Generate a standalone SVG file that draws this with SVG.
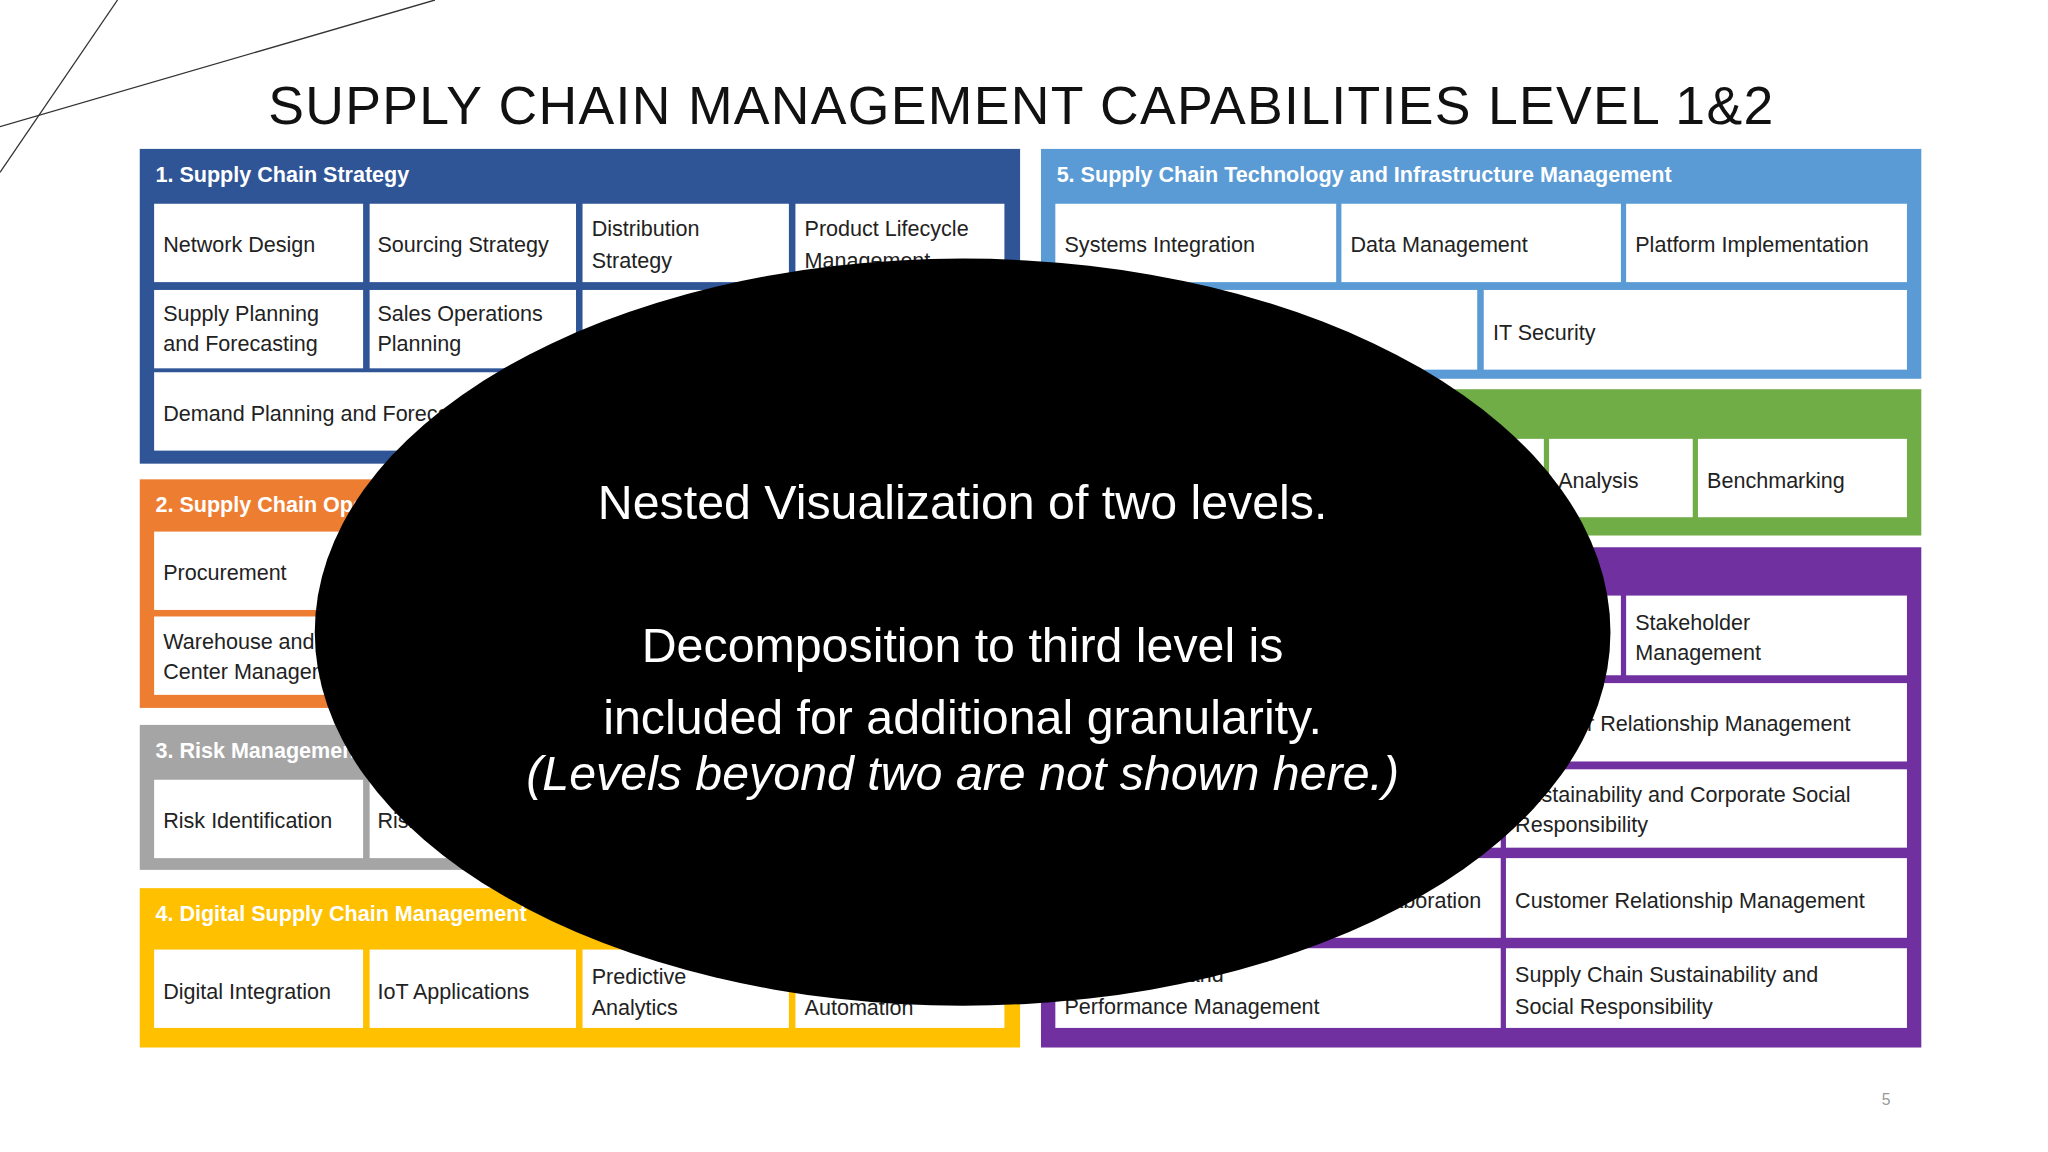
<svg xmlns="http://www.w3.org/2000/svg" width="2048" height="1152" viewBox="0 0 2048 1152">
<style>
.h{font-family:"Liberation Sans",Arial,sans-serif;font-weight:bold;font-size:16.5px;fill:#fff}
.c{fill:#fff}
.t{font-family:"Liberation Sans",Arial,sans-serif;font-size:16.5px;fill:#222}
.e{font-family:"Liberation Sans",Arial,sans-serif;font-size:37px;fill:#fff;text-anchor:middle}
</style>
<rect width="2048" height="1152" fill="#fff"/>
<g transform="scale(1.30612)">
<g id="decor" stroke="#333" stroke-width="1">
<line x1="90" y1="0" x2="0" y2="132"/><line x1="333" y1="0" x2="0" y2="97"/>
</g>
<text x="782" y="95" text-anchor="middle" font-family="Liberation Sans,Arial,sans-serif" font-size="41" fill="#111" letter-spacing="1">SUPPLY CHAIN MANAGEMENT CAPABILITIES LEVEL 1&amp;2</text>

<g id="p1"><rect x="107" y="114" width="674" height="241" fill="#2F5597"/>
<text class="h" x="119" y="139">1. Supply Chain Strategy</text>
<rect class="c" x="118" y="156" width="160" height="60"/><text class="t" x="125" y="193">Network Design</text>
<rect class="c" x="283" y="156" width="158" height="60"/><text class="t" x="289" y="193">Sourcing Strategy</text>
<rect class="c" x="446" y="156" width="158" height="60"/><text class="t" x="453" y="181">Distribution</text><text class="t" x="453" y="205">Strategy</text>
<rect class="c" x="609" y="156" width="160" height="60"/><text class="t" x="616" y="181">Product Lifecycle</text><text class="t" x="616" y="205">Management</text>
<rect class="c" x="118" y="222" width="160" height="60"/><text class="t" x="125" y="246">Supply Planning</text><text class="t" x="125" y="269">and Forecasting</text>
<rect class="c" x="283" y="222" width="158" height="60"/><text class="t" x="289" y="246">Sales Operations</text><text class="t" x="289" y="269">Planning</text>
<rect class="c" x="446" y="222" width="323" height="60"/>
<rect class="c" x="118" y="285" width="651" height="60"/><text class="t" x="125" y="322">Demand Planning and Forecasting</text></g>

<g id="p2"><rect x="107" y="367" width="674" height="175" fill="#ED7D31"/>
<text class="h" x="119" y="392">2. Supply Chain Operations</text>
<rect class="c" x="118" y="407" width="651" height="60"/><text class="t" x="125" y="444">Procurement</text>
<rect class="c" x="118" y="472" width="651" height="60"/><text class="t" x="125" y="497">Warehouse and Distribution</text><text class="t" x="125" y="520">Center Management</text></g>

<g id="p3"><rect x="107" y="555" width="674" height="111" fill="#A5A5A5"/>
<text class="h" x="119" y="580">3. Risk Management</text>
<rect class="c" x="118" y="597" width="160" height="60"/><text class="t" x="125" y="634">Risk Identification</text>
<rect class="c" x="283" y="597" width="486" height="60"/><text class="t" x="289" y="634">Risk Mitigation</text></g>

<g id="p4"><rect x="107" y="680" width="674" height="122" fill="#FFC000"/>
<text class="h" x="119" y="705">4. Digital Supply Chain Management</text>
<rect class="c" x="118" y="727" width="160" height="60"/><text class="t" x="125" y="765">Digital Integration</text>
<rect class="c" x="283" y="727" width="158" height="60"/><text class="t" x="289" y="765">IoT Applications</text>
<rect class="c" x="446" y="727" width="158" height="60"/><text class="t" x="453" y="753">Predictive</text><text class="t" x="453" y="777">Analytics</text>
<rect class="c" x="609" y="727" width="160" height="60"/><text class="t" x="616" y="777">Automation</text></g>

<g id="p5"><rect x="797" y="114" width="674" height="176" fill="#5B9BD5"/>
<text class="h" x="809" y="139">5. Supply Chain Technology and Infrastructure Management</text>
<rect class="c" x="808" y="156" width="215" height="60"/><text class="t" x="815" y="193">Systems Integration</text>
<rect class="c" x="1027" y="156" width="214" height="60"/><text class="t" x="1034" y="193">Data Management</text>
<rect class="c" x="1245" y="156" width="215" height="60"/><text class="t" x="1252" y="193">Platform Implementation</text>
<rect class="c" x="808" y="222" width="323" height="61"/>
<rect class="c" x="1136" y="222" width="324" height="61"/><text class="t" x="1143" y="260">IT Security</text></g>

<g id="p6"><rect x="797" y="298" width="674" height="112" fill="#70AD47"/>
<rect class="c" x="808" y="336" width="374" height="60"/>
<rect class="c" x="1186" y="336" width="110" height="60"/><text class="t" x="1193" y="374">Analysis</text>
<rect class="c" x="1300" y="336" width="160" height="60"/><text class="t" x="1307" y="374">Benchmarking</text></g>

<g id="p7"><rect x="797" y="419" width="674" height="383" fill="#7030A0"/>
<rect class="c" x="808" y="456" width="433" height="61"/>
<rect class="c" x="1245" y="456" width="215" height="61"/><text class="t" x="1252" y="482">Stakeholder</text><text class="t" x="1252" y="505">Management</text>
<rect class="c" x="808" y="523" width="341" height="60"/>
<rect class="c" x="1153" y="523" width="307" height="60"/><text class="t" x="1160" y="560">Supplier Relationship Management</text>
<rect class="c" x="808" y="589" width="341" height="60"/>
<rect class="c" x="1153" y="589" width="307" height="60"/><text class="t" x="1160" y="614">Sustainability and Corporate Social</text><text class="t" x="1160" y="637">Responsibility</text>
<rect class="c" x="808" y="657" width="341" height="61"/><text class="t" x="1134" y="695" text-anchor="end">Collaboration</text>
<rect class="c" x="1153" y="657" width="307" height="61"/><text class="t" x="1160" y="695">Customer Relationship Management</text>
<rect class="c" x="808" y="726" width="341" height="61"/><text class="t" x="815" y="752">Governance and</text><text class="t" x="815" y="776">Performance Management</text>
<rect class="c" x="1153" y="726" width="307" height="61"/><text class="t" x="1160" y="752">Supply Chain Sustainability and</text><text class="t" x="1160" y="776">Social Responsibility</text></g>

<g id="overlay"><ellipse cx="737" cy="484" rx="496" ry="286" fill="#000"/>
<text class="e" x="737" y="397">Nested Visualization of two levels.</text>
<text class="e" x="737" y="507">Decomposition to third level is</text>
<text class="e" x="737" y="562">included for additional granularity.</text>
<text class="e" x="737" y="605" font-size="28" font-style="italic">(Levels beyond two are not shown here.)</text></g>
<text x="1444" y="846" font-family="Liberation Sans,Arial,sans-serif" font-size="12" fill="#999" text-anchor="middle">5</text>
</g>
<g id="connectors"/>
</svg>
